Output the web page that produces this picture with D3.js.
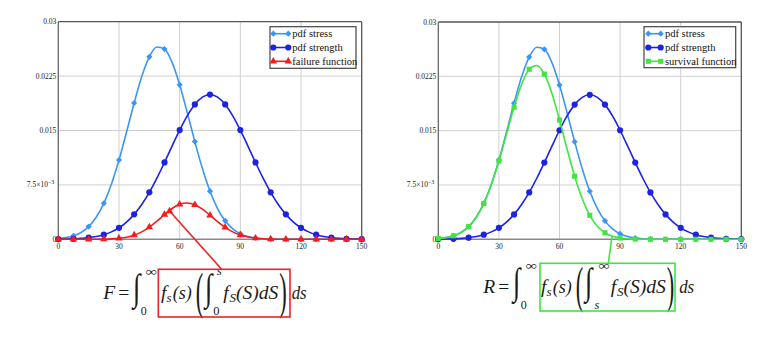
<!DOCTYPE html>
<html><head><meta charset="utf-8">
<script src="https://cdn.jsdelivr.net/npm/d3@7"></script>
<style>
html,body{margin:0;padding:0;background:#fff;}
svg{display:block;}
</style></head>
<body>
<svg id="c" width="768" height="342"></svg>
<script>
// ---- data ----
const xs = [0,3.75,7.5,11.25,15,18.75,22.5,26.25,30,33.75,37.5,41.25,45,48.75,52.5,56.25,60,63.75,67.5,71.25,75,78.75,82.5,86.25,90,93.75,97.5,101.25,105,108.75,112.5,116.25,120,123.75,127.5,131.25,135,138.75,142.5,146.25,150];
const stress = [0.000103,0.000229,0.00048,0.000945,0.001748,0.003036,0.004954,0.007593,0.010934,0.014791,0.018795,0.022435,0.025159,0.026504,0.026229,0.024385,0.021296,0.017473,0.013467,0.00975,0.006632,0.004238,0.002544,0.001434,0.00076,0.000378,0.000177,0.000078,0.000032,0.000012,0.000005,0.000002,0.000001,0,0,0,0,0,0,0,0];
const strength = [0.000018,0.000035,0.000067,0.000124,0.000222,0.000382,0.000636,0.001023,0.001587,0.002378,0.003439,0.004803,0.006476,0.00843,0.010594,0.012854,0.015057,0.017028,0.018593,0.0196,0.019947,0.0196,0.018593,0.017028,0.015057,0.012854,0.010594,0.00843,0.006476,0.004803,0.003439,0.002378,0.001587,0.001023,0.000636,0.000382,0.000222,0.000124,0.000067,0.000035,0.000018];
const failure = [0,0,0,0.000001,0.000002,0.000007,0.000021,0.000056,0.000134,0.00029,0.000571,0.001027,0.001681,0.002509,0.003418,0.004249,0.004827,0.005013,0.004765,0.00415,0.003316,0.002434,0.001644,0.001023,0.000588,0.000312,0.000154,0.00007,0.00003,0.000012,0.000004,0.000002,0,0,0,0,0,0,0,0,0];
const survival = [0.000103,0.000229,0.00048,0.000944,0.001746,0.00303,0.004933,0.007538,0.0108,0.014501,0.018223,0.021408,0.023478,0.023995,0.022811,0.020136,0.016471,0.01246,0.008702,0.0056,0.003316,0.001803,0.0009,0.000411,0.000172,0.000066,0.000023,0.000007,0.000002,0,0,0,0,0,0,0,0,0,0,0,0];
const xTicks = [0,30,60,90,120,150];
const yTicks = [0,0.0075,0.015,0.0225,0.03];
const yTickLabels = ["0","7.5×10|−3","0.015","0.0225","0.03"];
const legendLeft = ["pdf stress","pdf strength","failure function"];
const legendRight = ["pdf stress","pdf strength","survival function"];
// annotation anchors (data coords on the third curve)
const annotLeft = [55, 0.0039];
const annotRight = [86, 0.0004];

// ---- styles ----
const C = {stress:"#3a96f5", strength:"#1c22e6", failure:"#f41c1c", survival:"#3ee63e"};
const svg = d3.select("#c");
const serif = "'Liberation Serif','Times New Roman',serif";

const symStress = {type:d3.symbolSquare, size:19, rot:45};
const symStrength = {type:d3.symbolCircle, size:30, rot:0};
const symFailure = {type:d3.symbolTriangle, size:24, rot:0};
const symSurvival = {type:d3.symbolSquare, size:26, rot:0};

function drawChart(cfg){
  const g = svg.append("g");
  const x = d3.scaleLinear().domain([0,150]).range([cfg.x0,cfg.x1]);
  const y = d3.scaleLinear().domain([0,0.03]).range([cfg.y0,cfg.y1]);
  g.selectAll(".gx").data(xTicks.slice(1,-1)).join("line")
    .attr("x1",d=>x(d)).attr("x2",d=>x(d)).attr("y1",y(0)).attr("y2",y(0.03))
    .attr("stroke","#d0d0d0").attr("stroke-width",1);
  g.selectAll(".gy").data(yTicks.slice(1,-1)).join("line")
    .attr("y1",d=>y(d)).attr("y2",d=>y(d)).attr("x1",x(0)).attr("x2",x(150))
    .attr("stroke","#d0d0d0").attr("stroke-width",1);
  g.append("line").attr("x1",x(0)).attr("x2",x(150)).attr("y1",y(0.03)).attr("y2",y(0.03)).attr("stroke","#555").attr("stroke-width",1.3);
  g.append("line").attr("x1",x(150)).attr("x2",x(150)).attr("y1",y(0)).attr("y2",y(0.03)).attr("stroke","#555").attr("stroke-width",1.3);
  g.append("line").attr("x1",x(0)).attr("x2",x(0)).attr("y1",y(0)).attr("y2",y(0.03)).attr("stroke","#666").attr("stroke-width",1.3);
  g.append("line").attr("x1",x(0)).attr("x2",x(150)).attr("y1",y(0)).attr("y2",y(0)).attr("stroke","#888").attr("stroke-width",1.5);
  g.selectAll(".tx").data(xTicks).join("text")
    .attr("x",d=>x(d)).attr("y",y(0)+10).attr("text-anchor","middle")
    .attr("font-family",serif).attr("font-size",7.5).attr("fill","#222").text(d=>d);
  yTicks.forEach((d,i)=>{
    const lab = yTickLabels[i];
    const t = g.append("text").attr("x",x(0)-2).attr("y",y(d)+2.5).attr("text-anchor","end")
      .attr("font-family",serif).attr("font-size",7.5).attr("fill","#222");
    if(lab.includes("|")){
      const [a,b] = lab.split("|");
      t.attr("x",x(0)-4);
      t.append("tspan").text(a);
      t.append("tspan").attr("dy",-3.5).attr("font-size",6).text(b);
    } else t.text(lab);
  });
  const line = d3.line().x((d,i)=>x(xs[i])).y(d=>y(d)).curve(d3.curveMonotoneX);
  cfg.series.forEach(s=>{
    g.append("path").attr("d",line(s.values)).attr("fill","none")
      .attr("stroke",s.color).attr("stroke-width",1.6);
    g.selectAll(null).data(s.values.map((v,i)=>[xs[i],v]).filter((d,i)=>i%2===0)).join("path")
      .attr("d",d3.symbol().type(s.sym.type).size(s.sym.size))
      .attr("transform",d=>`translate(${x(d[0])},${y(d[1])}) rotate(${s.sym.rot})`)
      .attr("fill",s.color);
  });
  const L = cfg.legend;
  g.append("rect").attr("x",L.x).attr("y",L.y).attr("width",L.w).attr("height",L.h)
    .attr("fill","#fff").attr("stroke","#444").attr("stroke-width",1.2);
  cfg.series.forEach((s,i)=>{
    const yy = L.y + 7 + i*13.8;
    g.append("line").attr("x1",L.mx0).attr("x2",L.mx1).attr("y1",yy).attr("y2",yy)
      .attr("stroke",s.color).attr("stroke-width",1.6);
    [L.mx0,L.mx1].forEach(mx=>{
      g.append("path").attr("d",d3.symbol().type(s.sym.type).size(s.sym.size))
        .attr("transform",`translate(${mx},${yy}) rotate(${s.sym.rot})`).attr("fill",s.color);
    });
    g.append("text").attr("x",L.tx).attr("y",yy+3.5).attr("font-family",serif)
      .attr("font-size",10.5).attr("fill","#111").text(cfg.labels[i]);
  });
  return {x,y};
}

const left = drawChart({x0:58.3,x1:361.7,y0:239.3,y1:21.7,
  series:[{values:stress,color:C.stress,sym:symStress},{values:strength,color:C.strength,sym:symStrength},{values:failure,color:C.failure,sym:symFailure}],
  labels:legendLeft,
  legend:{x:270,y:26.7,w:86,h:41.6,mx0:273.3,mx1:288.3,tx:292.3}});
const right = drawChart({x0:438.3,x1:741.3,y0:239.3,y1:22,
  series:[{values:stress,color:C.stress,sym:symStress},{values:strength,color:C.strength,sym:symStrength},{values:survival,color:C.survival,sym:symSurvival}],
  labels:legendRight,
  legend:{x:644,y:26.7,w:91.7,h:41,mx0:648.3,mx1:660.7,tx:665}});

// ---- formulas ----
function formula(lx, by, letter, lowInner, upInner, color, box, anchorPx){
  const g = svg.append("g").attr("fill","#1a1a1a");
  const T = (x,y,txt,size,opts={})=>{
    const t = g.append("text").attr("font-size",size)
      .attr("font-family",serif).attr("font-style",opts.italic?"italic":"normal").text(txt);
    if(opts.sy) t.attr("transform",`translate(${x},${y}) scale(${opts.sx||1},${opts.sy})`);
    else t.attr("x",x).attr("y",y);
    if(opts.len) t.attr("textLength",opts.len).attr("lengthAdjust","spacingAndGlyphs");
    return t;
  };
  const sh = upInner==="∞" ? 7.5 : 0;
  T(lx, by, letter, 19.5, {italic:true});
  T(lx+15, by, "=", 19, {len:11});
  T(lx+29.5, by+1, "∫", 30, {sx:0.9, sy:1.25, italic:true});
  T(lx+42.2, by-22.7, "∞", 13, {len:11.5});
  T(lx+37.5, by+16.6, "0", 12);
  T(lx+57.7, by, "f", 19.5, {italic:true});
  T(lx+63.2, by+3.5, "s", 13, {italic:true});
  T(lx+69.4, by, "(s)", 19.5, {italic:true, len:19});
  T(lx+92.5, by+9.4, "(", 30, {sx:0.75, sy:1.66});
  T(lx+101.5, by+1, "∫", 30, {sx:0.9, sy:1.25, italic:true});
  if(upInner==="∞") T(lx+115, by-22.7, "∞", 13, {len:11.5});
  else T(lx+113.4, by-23.4, upInner, 13, {italic:true});
  T(lowInner==="0"?lx+110:lx+111.2, by+16.6, lowInner, 12.5, {italic:lowInner!=="0"});
  T(lx+120+sh, by, "f", 19.5, {italic:true});
  T(lx+126.2+sh, by+3.5, "S", 13, {italic:true});
  T(lx+132.7+sh, by, "(S)dS", 19.5, {italic:true, len:42.3});
  T(lx+176+sh, by+9.4, ")", 30, {sx:0.75, sy:1.66});
  T(lx+188.4+sh, by, "ds", 19.5, {italic:true, len:15});
  svg.append("rect").attr("x",box[0]).attr("y",box[1]).attr("width",box[2]).attr("height",box[3])
    .attr("fill","none").attr("stroke",color).attr("stroke-width",1.6);
  svg.append("line").attr("x1",box[4]).attr("y1",box[1]).attr("x2",anchorPx[0]).attr("y2",anchorPx[1])
    .attr("stroke",color).attr("stroke-width",1.6);
}
formula(103.3, 298.7, "F", "0", "s", "#ee2424",
  [158.3,269.3,131.7,47.7,221.7], [left.x(annotLeft[0]), left.y(annotLeft[1])]);
formula(483.3, 292.7, "R", "s", "∞", "#3ee63e",
  [540,263.3,135,47.7,608.3], [right.x(annotRight[0]), right.y(annotRight[1])]);
svg.append("path").attr("d",d3.symbol().type(d3.symbolTriangle).size(24)())
  .attr("transform",`translate(${left.x(annotLeft[0])},${left.y(annotLeft[1])})`).attr("fill",C.failure);
</script>
</body></html>
